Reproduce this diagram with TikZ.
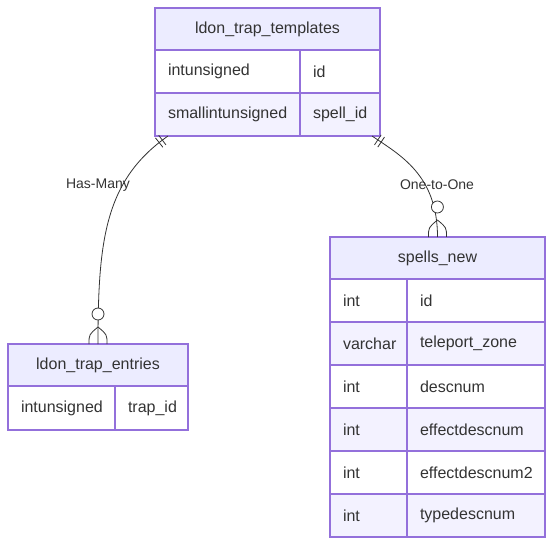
\documentclass[tikz,border=0pt]{standalone}
\usepackage{fontspec}
\setmainfont{Liberation Sans}
\usetikzlibrary{positioning,decorations.markings}

\definecolor{erline}{HTML}{9370DB}
\definecolor{erhead}{HTML}{ECECFF}
\definecolor{erodd}{HTML}{F3F2FF}
\definecolor{ertext}{HTML}{333333}

\tikzset{
  hdrbox/.style={rectangle, draw=erline, fill=erhead, line width=1.3pt, text=ertext,
    minimum height=42pt, anchor=north west, inner sep=0pt, outer sep=0pt,
    font=\fontsize{16}{19}\selectfont},
  cellbox/.style={rectangle, draw=erline, line width=1.3pt, text=ertext,
    minimum height=43pt, inner xsep=13pt, inner ysep=0pt, outer sep=0pt,
    text width=#1, align=left, font=\fontsize{16}{19}\selectfont},
  oddrow/.style={fill=erodd},
  relline/.style={draw=ertext, line width=0.8pt},
  onlyone/.style={postaction={decorate, decoration={markings,
    mark=at position 7pt with {\draw[ertext, line width=0.8pt] (0,-6pt) -- (0,6pt);},
    mark=at position 11pt with {\draw[ertext, line width=0.8pt] (0,-6pt) -- (0,6pt);}}}},
  zeromany/.style={postaction={decorate, decoration={markings,
    mark=at position -0.5pt with {
      \draw[ertext, line width=0.8pt] (-16.5pt,0) .. controls (-9pt,9pt) .. (0.5pt,9pt);
      \draw[ertext, line width=0.8pt] (-16.5pt,0) .. controls (-9pt,-9pt) .. (0.5pt,-9pt);
      \draw[ertext, line width=0.8pt, fill=white] (-29.5pt,0) circle (6pt);}}}},
  rellabel/.style={text=ertext, font=\fontsize{14}{16}\selectfont, inner sep=1pt}
}

\begin{document}
\begin{tikzpicture}[x=1pt, y=-1pt]
	\useasboundingbox (0,0) rectangle (553,545);

	% ldon_trap_templates
	\node[hdrbox, minimum width=225pt] (tpl) at (155,8) {ldon\_trap\_templates};
	\node[cellbox=119pt, anchor=north west] (tplt1) at (tpl.south west) {intunsigned};
	\node[cellbox=54pt, anchor=north west] (tpln1) at (tplt1.north east) {id};
	\node[cellbox=119pt, oddrow, anchor=north west] (tplt2) at (tplt1.south west) {smallintunsigned};
	\node[cellbox=54pt, oddrow, anchor=north west] (tpln2) at (tplt2.north east) {spell\_id};

	% ldon_trap_entries
	\node[hdrbox, minimum width=180pt] (ent) at (8,344) {ldon\_trap\_entries};
	\node[cellbox=81pt, minimum height=44pt, anchor=north west] (entt1) at (ent.south west) {intunsigned};
	\node[cellbox=47pt, minimum height=44pt, anchor=north west] (entn1) at (entt1.north east) {trap\_id};

	% spells_new
	\node[hdrbox, minimum width=215pt] (spl) at (330,237) {spells\_new};
	\node[cellbox=51pt, anchor=north west] (splt1) at (spl.south west) {int};
	\node[cellbox=112pt, anchor=north west] (spln1) at (splt1.north east) {id};
	\node[cellbox=51pt, oddrow, anchor=north west] (splt2) at (splt1.south west) {varchar};
	\node[cellbox=112pt, oddrow, anchor=north west] (spln2) at (splt2.north east) {teleport\_zone};
	\node[cellbox=51pt, anchor=north west] (splt3) at (splt2.south west) {int};
	\node[cellbox=112pt, anchor=north west] (spln3) at (splt3.north east) {descnum};
	\node[cellbox=51pt, oddrow, anchor=north west] (splt4) at (splt3.south west) {int};
	\node[cellbox=112pt, oddrow, anchor=north west] (spln4) at (splt4.north east) {effectdescnum};
	\node[cellbox=51pt, anchor=north west] (splt5) at (splt4.south west) {int};
	\node[cellbox=112pt, anchor=north west] (spln5) at (splt5.north east) {effectdescnum2};
	\node[cellbox=51pt, oddrow, anchor=north west] (splt6) at (splt5.south west) {int};
	\node[cellbox=112pt, oddrow, anchor=north west] (spln6) at (splt6.north east) {typedescnum};

	% relationships
	\draw[relline, onlyone, zeromany] ([xshift=13pt]tplt2.south west)
		.. controls (105,180) and (98,240) .. (ent.north);
	\draw[relline, onlyone, zeromany] ([xshift=-8pt]tpln2.south east)
		.. controls (400,155) and (437.5,175) .. (spl.north);
	\node[rellabel] (hasmany) at (98,185) {Has-Many};
	\node[rellabel] (onetoone) at (437,185) {One-to-One};
\end{tikzpicture}
\end{document}
